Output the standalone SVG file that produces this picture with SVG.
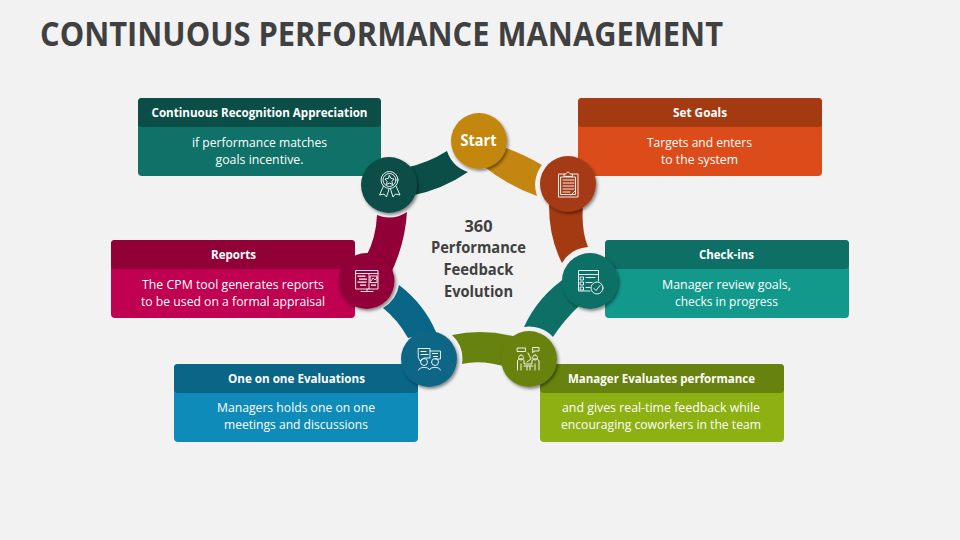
<svg xmlns="http://www.w3.org/2000/svg" width="960" height="540" viewBox="0 0 960 540">
<style>
text{font-family:"Open Sans","Noto Sans","Liberation Sans",sans-serif;text-anchor:middle}
.title{font-size:34px;font-weight:700;fill:#404040;text-anchor:start}
.center{font-size:16px;font-weight:700;fill:#404040}
.head{font-size:12.3px;font-weight:700;fill:#fff}
.body{font-size:12.3px;font-weight:500;fill:#fff}
.start{font-size:16px;font-weight:700;fill:#fff}
.ic{fill:none;stroke:#fff;stroke-width:.9;stroke-linejoin:round;stroke-linecap:round}
.fw{fill:#fff;stroke:none}
.c{filter:url(#sh)}
</style>
<defs>
<filter id="sh" x="-30%" y="-30%" width="170%" height="170%"><feDropShadow dx="1.5" dy="2" stdDeviation="1.6" flood-color="#000" flood-opacity=".45"/></filter>
</defs>
<rect width="960" height="540" fill="#f2f2f2"/>
<text class="title" x="40" y="46" textLength="683" lengthAdjust="spacingAndGlyphs">CONTINUOUS PERFORMANCE MANAGEMENT</text>
<g id="connectors">
<path fill="#c38711" d="M500 146Q522 153 542 165A32.5 32.5 0 0 0 537 196Q508 186 482 165Z"/>
<path fill="#a43a12" d="M549 205Q549 238 562 263A33 33 0 0 1 588 247Q581 230 583 205Z"/>
<path fill="#0e6f66" d="M568 276Q538 296 524 327A32.5 32.5 0 0 1 553 337Q564 320 580 305Z"/>
<path fill="#67820f" d="M520 338Q486 328 452 335A33 33 0 0 1 462 364Q482 359 510 368Z"/>
<path fill="#0a6686" d="M436 332Q424 304 399 285A33 33 0 0 1 383 308Q398 320 408 338Z"/>
<path fill="#910037" d="M364 260Q376 240 377 215A32.5 32.5 0 0 0 407 212Q405 245 390 275Z"/>
<path fill="#0b4d47" d="M405 168Q428 163 447 151A33 33 0 0 0 468 172Q442 190 410 196Z"/>
</g>
<g id="box-recognition"><rect x="138" y="98" width="243" height="78" rx="4" fill="#0f7168"/><rect x="138" y="98" width="243" height="29" rx="4" fill="#0b4d47"/><text class="head" x="259.500" y="117" textLength="216" lengthAdjust="spacingAndGlyphs">Continuous Recognition Appreciation</text><text class="body" x="259.500" y="147" textLength="135" lengthAdjust="spacingAndGlyphs">if performance matches</text><text class="body" x="259.500" y="164" textLength="88" lengthAdjust="spacingAndGlyphs">goals incentive.</text></g>
<g id="box-goals"><rect x="578" y="98" width="244" height="78" rx="4" fill="#dc4c1b"/><rect x="578" y="98" width="244" height="29" rx="4" fill="#a43a12"/><text class="head" x="700" y="117" textLength="54" lengthAdjust="spacingAndGlyphs">Set Goals</text><text class="body" x="699.500" y="147" textLength="105" lengthAdjust="spacingAndGlyphs">Targets and enters</text><text class="body" x="699.500" y="164" textLength="77" lengthAdjust="spacingAndGlyphs">to the system</text></g>
<g id="box-checkins"><rect x="605" y="240" width="244" height="78" rx="4" fill="#12998c"/><rect x="605" y="240" width="244" height="29" rx="4" fill="#0e6f66"/><text class="head" x="726.500" y="259" textLength="55" lengthAdjust="spacingAndGlyphs">Check-ins</text><text class="body" x="726.500" y="289" textLength="129" lengthAdjust="spacingAndGlyphs">Manager review goals,</text><text class="body" x="726.500" y="306" textLength="103" lengthAdjust="spacingAndGlyphs">checks in progress</text></g>
<g id="box-reports"><rect x="111" y="240" width="244" height="78" rx="4" fill="#c00050"/><rect x="111" y="240" width="244" height="29" rx="4" fill="#910037"/><text class="head" x="233.500" y="259" textLength="45" lengthAdjust="spacingAndGlyphs">Reports</text><text class="body" x="233" y="289" textLength="182" lengthAdjust="spacingAndGlyphs">The CPM tool generates reports</text><text class="body" x="233" y="306" textLength="184" lengthAdjust="spacingAndGlyphs">to be used on a formal appraisal</text></g>
<g id="box-evaluations"><rect x="174" y="364" width="244" height="78" rx="4" fill="#0e8bb8"/><rect x="174" y="364" width="244" height="29" rx="4" fill="#0a6686"/><text class="head" x="296.500" y="383" textLength="137" lengthAdjust="spacingAndGlyphs">One on one Evaluations</text><text class="body" x="296" y="412" textLength="158" lengthAdjust="spacingAndGlyphs">Managers holds one on one</text><text class="body" x="296" y="429" textLength="144" lengthAdjust="spacingAndGlyphs">meetings and discussions</text></g>
<g id="box-manager"><rect x="540" y="364" width="244" height="78" rx="4" fill="#8db013"/><rect x="540" y="364" width="244" height="29" rx="4" fill="#67820f"/><text class="head" x="661.500" y="383" textLength="187" lengthAdjust="spacingAndGlyphs">Manager Evaluates performance</text><text class="body" x="661" y="412" textLength="198" lengthAdjust="spacingAndGlyphs">and gives real-time feedback while</text><text class="body" x="661" y="429" textLength="200" lengthAdjust="spacingAndGlyphs">encouraging coworkers in the team</text></g>
<g id="node-center"><text class="center" x="478.500" y="232" textLength="28" lengthAdjust="spacingAndGlyphs">360</text><text class="center" x="478.500" y="253" textLength="95" lengthAdjust="spacingAndGlyphs">Performance</text><text class="center" x="478.500" y="275" textLength="70" lengthAdjust="spacingAndGlyphs">Feedback</text><text class="center" x="478.500" y="297" textLength="69" lengthAdjust="spacingAndGlyphs">Evolution</text></g>
<g id="node-start"><circle class="c" cx="479" cy="141" r="28" fill="#c38711"/><text class="start" x="478.500" y="146" textLength="36" lengthAdjust="spacingAndGlyphs">Start</text></g>
<g id="node-goals"><circle class="c" cx="568" cy="184" r="28" fill="#a43a12"/>
<path class="ic" d="M564 174H558.500V197H578V174H572.500M564 176V174H566C566.500 171.500 569.500 171.500 570 174H572.500V176Z"/><path class="ic" d="M561 177H575.500V194.500H561Z"/><path class="ic" d="M563 180H574M563 183H574M563 186H574M563 189H574M563 192H570M571 195L575.500 190.500"/></g>
<g id="node-check"><circle class="c" cx="590" cy="281" r="28" fill="#0e6f66"/>
<path class="ic" d="M590 291H578.500V270.500H598.500V281M578.500 274.500H598.500"/><path class="ic" d="M580.500 277h3v3h-3zM580.500 282h3v3h-3zM580.500 287h3v3h-3z"/><path class="ic" d="M586 277.500H595M586 282.500H592M586 287.500H590"/><circle class="ic" cx="597" cy="288" r="6"/><path class="ic" d="M594 288.500L596 290.500L600 285.500"/></g>
<g id="node-manager"><circle class="c" cx="529" cy="359" r="28" fill="#67820f"/>
<path class="ic" d="M517.500 348h8v3.500h-8zM533 347.500h6v3.500h-5l-1 1.500zM521 355a2.500 2.500 0 1 0 .1 0M535 355a2.500 2.500 0 1 0 .1 0M517.500 370V361C518 358 524 358 524 361V364H532V361C532 358 538.500 358 539 361V370M521 364V370M535 364V370M524 366H533M527 366V370M530 366V370M528 353L531 359L527 362"/></g>
<g id="node-one"><circle class="c" cx="429" cy="359" r="28" fill="#0a6686"/>
<path class="ic" d="M418.500 348.500H430V358H424L420 361L418.500 358ZM430 351H440.500V359H435"/><path class="fw" d="M420.500 351h6v1h-6zM420.500 354h8v1h-8zM432 353h6v1h-6zM433 356h5v1h-5z"/><path class="ic" d="M420.500 362a3.500 3.500 0 1 0 7 0a3.500 3.500 0 1 0 -7 0M431.500 362a3.500 3.500 0 1 0 7 0a3.500 3.500 0 1 0 -7 0M418.500 370C419 366.500 429 366.500 429.500 370C430 366.500 440 366.500 440.500 370"/></g>
<g id="node-reports"><circle class="c" cx="366.500" cy="281" r="28" fill="#910037"/>
<path class="ic" d="M356 270.500H378V289H356ZM356 273.500H378M369 273.500V289M361 291.500H373M367 289V291.500"/><path class="fw" d="M357.500 275.500h8v1.200h-8zM359 278.500h8v1.200h-8zM357.500 281.500h9v1.200h-9zM360 284.500h6v1.200h-6zM371 284.500h5v1.200h-5z"/><path class="ic" d="M370.500 276h6.500v6.500h-6.500zM371 281L373 278L375 280L377 277.500"/></g>
<g id="node-recognition"><circle class="c" cx="389" cy="185" r="28" fill="#0b4d47"/>
<circle class="ic" cx="389.500" cy="180" r="8.500"/><circle class="ic" cx="389.500" cy="180" r="6.500"/><path class="ic" d="M389.500 175.500L391 178.500L394 179L392 181.500L392.500 184.500L389.500 183L386.500 184.500L387 181.500L385 179L388 178.500ZM383.500 186L379.500 195L384 194L386.500 197L389 189M396 186L400 195L395.500 194L393 197L390.500 189"/></g>
</svg>
